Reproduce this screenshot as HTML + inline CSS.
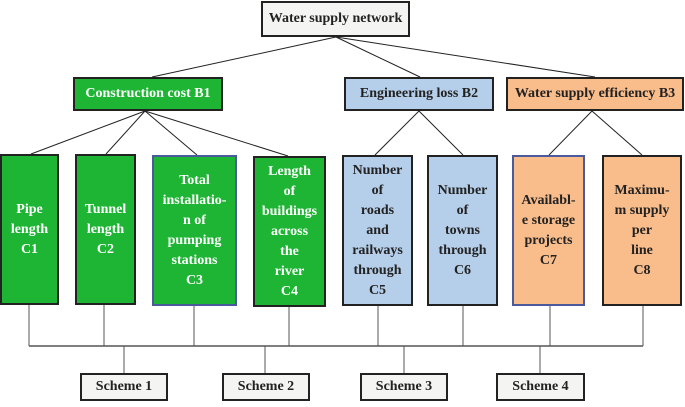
<!DOCTYPE html>
<html><head><meta charset="utf-8"><style>
body{margin:0;width:685px;height:407px;background:#fff;position:relative;overflow:hidden;font-family:"Liberation Serif",serif;font-weight:bold}
.b{position:absolute;box-sizing:border-box;border:2px solid #222;display:flex;align-items:center;justify-content:center;text-align:center;font-size:14px;line-height:20px}
.g{background:#1db533;color:#fff}
.bl{background:#b5cee9;color:#222}
.o{background:#f9bc8b;color:#222}
.w{background:#f4f4f2;color:#222}
.bb{border-color:#4a5a9a}
svg{position:absolute;left:0;top:0}
</style></head><body>
<svg width="685" height="407" stroke="#222" stroke-width="1" fill="none">
<line x1="336" y1="37" x2="152" y2="77"/><line x1="336" y1="37" x2="420" y2="77"/><line x1="336" y1="37" x2="595" y2="77"/>
<line x1="145" y1="111" x2="31" y2="154"/><line x1="145" y1="111" x2="106" y2="154"/><line x1="145" y1="111" x2="197" y2="155"/><line x1="145" y1="111" x2="288" y2="156"/>
<line x1="419" y1="111" x2="375" y2="155"/><line x1="419" y1="111" x2="463" y2="155"/>
<line x1="592" y1="111" x2="549" y2="155"/><line x1="592" y1="111" x2="642" y2="155"/>
<g stroke="#555">
<line x1="29" y1="305" x2="29" y2="346"/><line x1="104" y1="305" x2="104" y2="346"/><line x1="194" y1="305" x2="194" y2="346"/><line x1="289" y1="305" x2="289" y2="346"/><line x1="378" y1="305" x2="378" y2="346"/><line x1="463" y1="305" x2="463" y2="346"/><line x1="550" y1="305" x2="550" y2="346"/><line x1="643" y1="305" x2="643" y2="346"/>
<line x1="29" y1="346" x2="643" y2="346" stroke-width="1.5"/>
<line x1="124" y1="346" x2="124" y2="373"/><line x1="265" y1="346" x2="265" y2="373"/><line x1="404" y1="346" x2="404" y2="373"/><line x1="540" y1="346" x2="540" y2="373"/>
</g></svg>
<div class="b w" style="left:261px;top:1px;width:149px;height:36px">Water supply network</div>
<div class="b g" style="left:73px;top:77px;width:150px;height:34px">Construction cost B1</div>
<div class="b bl" style="left:344px;top:77px;width:150px;height:34px">Engineering loss B2</div>
<div class="b o" style="left:506px;top:77px;width:178px;height:34px">Water supply efficiency B3</div>
<div class="b g" style="left:0;top:154px;width:59px;height:151px">Pipe<br>length<br>C1</div>
<div class="b g" style="left:75px;top:154px;width:61px;height:151px">Tunnel<br>length<br>C2</div>
<div class="b g bb" style="left:152px;top:155px;width:85px;height:151px">Total<br>installatio-<br>n of<br>pumping<br>stations<br>C3</div>
<div class="b g" style="left:253px;top:156px;width:73px;height:151px">Length<br>of<br>buildings<br>across<br>the<br>river<br>C4</div>
<div class="b bl" style="left:342px;top:155px;width:71px;height:151px">Number<br>of<br>roads<br>and<br>railways<br>through<br>C5</div>
<div class="b bl" style="left:427px;top:155px;width:71px;height:151px">Number<br>of<br>towns<br>through<br>C6</div>
<div class="b o bb" style="left:512px;top:155px;width:73px;height:151px">Availabl-<br>e storage<br>projects<br>C7</div>
<div class="b o" style="left:602px;top:155px;width:80px;height:151px">Maximu-<br>m supply<br>per<br>line<br>C8</div>
<div class="b w" style="left:80px;top:373px;width:88px;height:28px">Scheme 1</div>
<div class="b w" style="left:222px;top:373px;width:88px;height:28px">Scheme 2</div>
<div class="b w" style="left:360px;top:373px;width:88px;height:28px">Scheme 3</div>
<div class="b w" style="left:496px;top:373px;width:89px;height:28px">Scheme 4</div>
</body></html>
